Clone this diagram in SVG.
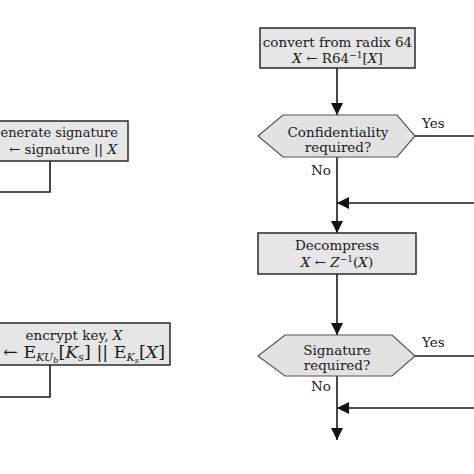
<svg xmlns="http://www.w3.org/2000/svg" width="474" height="474" viewBox="0 0 474 474">
<style>
.box{fill:#e6e6e6;stroke:#2a2a2a;stroke-width:1.5}
.hex{fill:#e2e2e2;stroke:#555;stroke-width:1.2}
.ln{fill:none;stroke:#1a1a1a;stroke-width:1.6}
.t{font-family:"DejaVu Serif","Liberation Serif",serif;font-size:13.5px;fill:#1a1a1a}
.c{text-anchor:middle}
.i{font-style:italic}
.s{font-size:9px}
</style>
<defs>
<marker id="ah" markerUnits="userSpaceOnUse" markerWidth="12" markerHeight="14" refX="12" refY="6" orient="auto">
<path d="M0,0 L12,6 L0,12 Z" fill="#111"/>
</marker>
</defs>
<rect width="474" height="474" fill="#fff"/>
<g id="connectors">
<path class="ln" d="M50,161 V192 H0"/>
<path class="ln" d="M50,365 V397 H0"/>
<path class="ln" d="M337,68 V115" marker-end="url(#ah)"/>
<path class="ln" d="M337,157 V233" marker-end="url(#ah)"/>
<path class="ln" d="M337,274 V335" marker-end="url(#ah)"/>
<path class="ln" d="M337,376 V440" marker-end="url(#ah)"/>
<path class="ln" d="M415,136 H474"/>
<path class="ln" d="M415,356 H474"/>
<path class="ln" d="M474,203 H337" marker-end="url(#ah)"/>
<path class="ln" d="M474,408 H337" marker-end="url(#ah)"/>
<text class="t" x="422" y="128">Yes</text>
<text class="t" x="311" y="175">No</text>
<text class="t" x="422" y="347">Yes</text>
<text class="t" x="311" y="391">No</text>
</g>
<g id="generate-signature">
<rect class="box" x="-20" y="121" width="148" height="40"/>
<text class="t" x="118" y="137" text-anchor="end" style="font-size:13px">enerate signature</text>
<text class="t" x="117" y="154" text-anchor="end">← signature || <tspan class="i">X</tspan></text>
</g>
<g id="encrypt-key">
<rect class="box" x="-20" y="323" width="190" height="42"/>
<text class="t c" x="74" y="340">encrypt key, <tspan class="i">X</tspan></text>
<text class="t" x="165" y="358" text-anchor="end" style="font-size:17.5px">← E<tspan class="i" style="font-size:11px" dy="3">KU</tspan><tspan class="i" style="font-size:8px" dy="2">b</tspan><tspan dy="-5">[</tspan><tspan class="i">K</tspan><tspan class="i" style="font-size:11px" dy="3">s</tspan><tspan dy="-3">] || E</tspan><tspan class="i" style="font-size:11px" dy="3">K</tspan><tspan class="i" style="font-size:8px" dy="2">s</tspan><tspan dy="-5">[</tspan><tspan class="i">X</tspan>]</text>
</g>
<g id="convert-radix">
<rect class="box" x="260" y="28" width="155" height="40"/>
<text class="t c" x="337.5" y="47">convert from radix 64</text>
<text class="t c" x="337.5" y="63"><tspan class="i">X</tspan> ← R64<tspan class="s" dy="-5">−1</tspan><tspan dy="5">[</tspan><tspan class="i">X</tspan>]</text>
</g>
<g id="confidentiality">
<polygon class="hex" points="258,136 283,115 397,115 415,136 397,157 283,157"/>
<text class="t c" x="338" y="137">Confidentiality</text>
<text class="t c" x="338" y="152">required?</text>
</g>
<g id="decompress">
<rect class="box" x="258" y="233" width="158" height="41"/>
<text class="t c" x="337" y="250">Decompress</text>
<text class="t c" x="337" y="267"><tspan class="i">X</tspan> ← <tspan class="i">Z</tspan><tspan class="s" dy="-5">−1</tspan><tspan dy="5">(</tspan><tspan class="i">X</tspan>)</text>
</g>
<g id="signature-required">
<polygon class="hex" points="258,356 285,335 392,335 415,356 392,376 285,376"/>
<text class="t c" x="337" y="355">Signature</text>
<text class="t c" x="337" y="370">required?</text>
</g>
</svg>
